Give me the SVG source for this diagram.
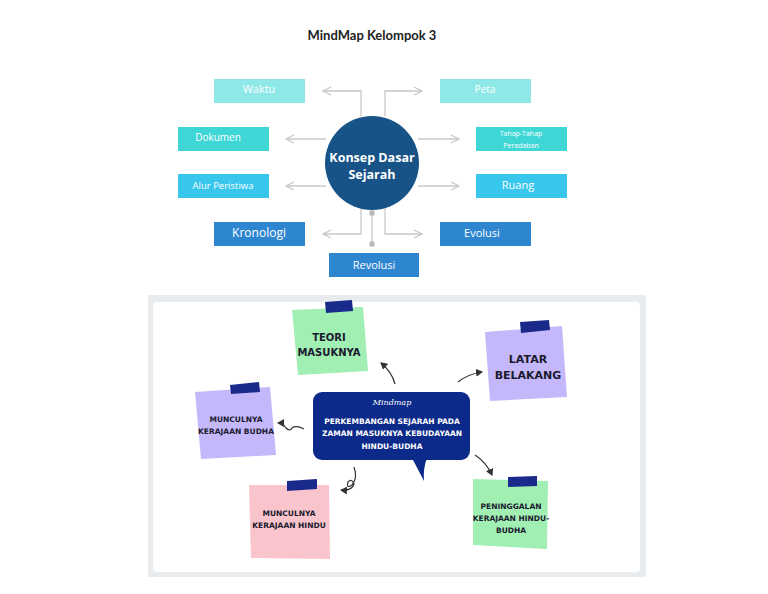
<svg xmlns="http://www.w3.org/2000/svg" width="768" height="594" viewBox="0 0 768 594">
<defs>
<marker id="oa" markerWidth="10" markerHeight="10" refX="9" refY="5" orient="auto" markerUnits="userSpaceOnUse"><path d="M1,1 L9,5 L1,9" fill="none" stroke="#c8c8c8" stroke-width="1.2"/></marker>
<marker id="da" markerWidth="8" markerHeight="8" refX="6" refY="4" orient="auto" markerUnits="userSpaceOnUse"><path d="M0,0 L7,4 L0,8 Z" fill="#333"/></marker>
<style>
.t{font-family:"Open Sans","Liberation Sans",sans-serif;fill:#fff;text-anchor:middle}
.c{fill:none;stroke:#c8c8c8;stroke-width:1.3}
.d{fill:none;stroke:#333;stroke-width:1.2}
.n{font-family:"DejaVu Sans","Liberation Sans",sans-serif;font-weight:bold;fill:#1a1a2e;text-anchor:middle}
.tape{fill:#1a2a8a}
</style>
</defs>
<rect width="768" height="594" fill="#fff"/>
<text x="372" y="40" font-family="Lato,'Liberation Sans',sans-serif" font-weight="bold" font-size="13" text-anchor="middle" fill="#222">MindMap Kelompok 3</text>
<rect x="148" y="295" width="498" height="282" fill="#e8ecef"/>
<rect x="153" y="302" width="487" height="270" rx="4" fill="#fff"/>
<g id="connectors">
<path class="c" d="M361,116 V91 H323" marker-end="url(#oa)"/>
<path class="c" d="M385,116 V91 H422" marker-end="url(#oa)"/>
<path class="c" d="M326,139 H286" marker-end="url(#oa)"/>
<path class="c" d="M418,139 H459" marker-end="url(#oa)"/>
<path class="c" d="M326,186 H286" marker-end="url(#oa)"/>
<path class="c" d="M418,186 H459" marker-end="url(#oa)"/>
<path class="c" d="M361,208 V234 H323" marker-end="url(#oa)"/>
<path class="c" d="M385,208 V234 H422" marker-end="url(#oa)"/>
<path class="c" d="M372,210 V244"/>
<rect x="369.5" y="210.5" width="5" height="5" fill="#b8b8b8"/>
<rect x="369.5" y="241.5" width="5" height="5" fill="#b8b8b8"/>
<path class="d" d="M395,384 Q392,372 381,363" marker-end="url(#da)"/>
<path class="d" d="M458,382 Q468,374 482,372" marker-end="url(#da)"/>
<path class="d" d="M304,429 Q296,425 292,428 Q290,432 286,428 Q283,423 278,423" marker-end="url(#da)"/>
<path class="d" d="M354,467 Q358,478 352,485 Q346,489 348,482 Q352,478 354,484 Q352,491 341,490" marker-end="url(#da)"/>
<path class="d" d="M475,455 Q486,462 492,475" marker-end="url(#da)"/>
</g>
<g id="center"><circle cx="372" cy="163" r="47" fill="#175386"/>
<text class="t" x="372" y="162" font-size="12.5" font-weight="bold">Konsep Dasar</text>
<text class="t" x="372" y="179" font-size="12.5" font-weight="bold">Sejarah</text></g>
<g id="waktu"><rect x="214" y="79" width="91" height="24" fill="#8ee8e8"/><text class="t" x="259" y="93" font-size="11">Waktu</text></g>
<g id="peta"><rect x="440" y="79" width="91" height="24" fill="#8ee8e8"/><text class="t" x="485" y="93" font-size="10">Peta</text></g>
<g id="dokumen"><rect x="178" y="127" width="91" height="24" fill="#3fd6d6"/><text class="t" x="218" y="141" font-size="10">Dokumen</text></g>
<g id="tahap"><rect x="476" y="127" width="91" height="24" fill="#3fd6d6"/><text class="t" x="521" y="136" font-size="7">Tahap-Tahap</text><text class="t" x="521" y="148" font-size="7">Peradaban</text></g>
<g id="alur"><rect x="178" y="174" width="91" height="24" fill="#38c6ec"/><text class="t" x="223" y="189" font-size="9.5">Alur Peristiwa</text></g>
<g id="ruang"><rect x="476" y="174" width="91" height="24" fill="#38c6ec"/><text class="t" x="518" y="189" font-size="11">Ruang</text></g>
<g id="kronologi"><rect x="214" y="222" width="91" height="24" fill="#2e86d0"/><text class="t" x="259" y="237" font-size="12">Kronologi</text></g>
<g id="evolusi"><rect x="440" y="222" width="91" height="24" fill="#2e86d0"/><text class="t" x="482" y="237" font-size="11">Evolusi</text></g>
<g id="revolusi"><rect x="329" y="253" width="90" height="24" fill="#2e86d0"/><text class="t" x="374" y="269" font-size="11">Revolusi</text></g>
<g id="teori"><polygon points="292,310 363,307 368,371 298,375" fill="#a2efb4"/><polygon points="325,302 352,300 353,311 326,313" class="tape"/>
<text class="n" x="329" y="341" font-size="10">TEORI</text><text class="n" x="329" y="356" font-size="10">MASUKNYA</text></g>
<g id="latar"><polygon points="485,332 562,326 567,397 490,401" fill="#c4b8fa"/><polygon points="520,322 549,320 550,330 521,333" class="tape"/>
<text class="n" x="528" y="363" font-size="11">LATAR</text><text class="n" x="528" y="379" font-size="11">BELAKANG</text></g>
<g id="budha"><polygon points="195,392 270,387 276,455 201,459" fill="#c4b8fa"/><polygon points="230,385 259,382 260,392 231,394" class="tape"/>
<text class="n" x="236" y="422" font-size="7.5">MUNCULNYA</text><text class="n" x="236" y="434" font-size="7.5">KERAJAAN BUDHA</text></g>
<g id="hindu"><polygon points="249,485 329,485 330,559 251,558" fill="#f9c4cc"/><polygon points="287,481 317,479 317,489 287,491" class="tape"/>
<text class="n" x="289" y="516" font-size="7.5">MUNCULNYA</text><text class="n" x="289" y="528" font-size="7.5">KERAJAAN HINDU</text></g>
<g id="peninggalan"><polygon points="473,479 548,481 547,549 473,545" fill="#a2efb4"/><polygon points="508,477 537,476 537,486 508,487" class="tape"/>
<text class="n" x="511" y="509" font-size="7.5">PENINGGALAN</text><text class="n" x="511" y="521" font-size="7.5">KERAJAAN HINDU-</text><text class="n" x="511" y="533" font-size="7.5">BUDHA</text></g>
<g id="bubble"><rect x="313" y="392" width="157" height="68" rx="9" fill="#0c2a8a"/><path d="M412,458 L427,458 Q423,468 424,481 Z" fill="#0c2a8a"/>
<text x="392" y="405" font-family="'DejaVu Serif',serif" font-style="italic" font-size="8" fill="#fff" text-anchor="middle">Mindmap</text>
<text class="n" x="392" y="424" font-size="7.5" style="fill:#fff">PERKEMBANGAN SEJARAH PADA</text>
<text class="n" x="392" y="436" font-size="7.5" style="fill:#fff">ZAMAN MASUKNYA KEBUDAYAAN</text>
<text class="n" x="392" y="449" font-size="7.5" style="fill:#fff">HINDU-BUDHA</text></g>
</svg>
